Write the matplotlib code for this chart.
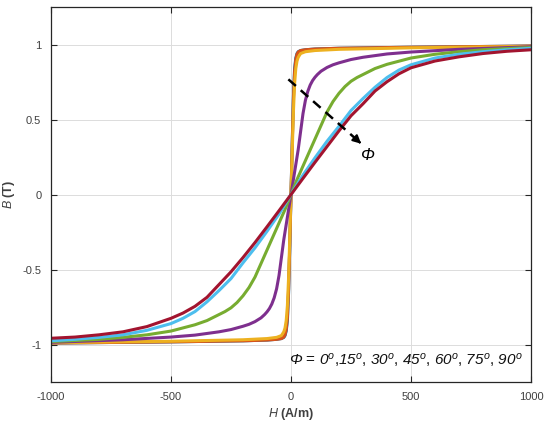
import numpy as np
import matplotlib
matplotlib.use('Agg')
import matplotlib.pyplot as plt

plt.rcParams['font.family'] = ['Liberation Sans', 'DejaVu Sans']
plt.rcParams['mathtext.fontset'] = 'custom'
plt.rcParams['mathtext.rm'] = 'Liberation Sans:italic'
plt.rcParams['mathtext.it'] = 'Liberation Sans:italic'
plt.rcParams['mathtext.bf'] = 'Liberation Sans:bold'

# B-H curves, one per angle phi
H_0 = [-1000, -500, -200, -100, -60, -40, -30, -25, -20, -15, -10, -5, 0,
       5, 10, 15, 20, 25, 30, 40, 60, 100, 200, 500, 1000]
B_0 = [-0.99, -0.982, -0.975, -0.97, -0.965, -0.96, -0.952, -0.94, -0.91, -0.84, -0.65, -0.34, 0,
       0.34, 0.65, 0.84, 0.91, 0.94, 0.952, 0.96, 0.965, 0.97, 0.975, 0.982, 0.99]

H_15 = [-1000, -500, -200, -100, -60, -40, -30, -25, -20, -15, -10, -5, 0,
        5, 10, 15, 20, 25, 30, 40, 60, 100, 200, 500, 1000]
B_15 = [-0.99, -0.982, -0.975, -0.97, -0.965, -0.96, -0.95, -0.935, -0.9, -0.82, -0.63, -0.33, 0,
        0.33, 0.63, 0.82, 0.9, 0.935, 0.95, 0.96, 0.965, 0.97, 0.975, 0.982, 0.99]

H_30 = [-1000, -500, -200, -100, -60, -40, -30, -25, -20, -15, -10, -5, 0,
        5, 10, 15, 20, 25, 30, 40, 60, 100, 200, 500, 1000]
B_30 = [-0.988, -0.978, -0.968, -0.96, -0.952, -0.94, -0.915, -0.89, -0.84, -0.74, -0.55, -0.28, 0,
        0.28, 0.55, 0.74, 0.84, 0.89, 0.915, 0.94, 0.952, 0.96, 0.968, 0.978, 0.988]

H_45 = [-1000, -700, -500, -400, -300, -250, -200, -175, -150, -125, -110, -100, -90, -80, -70, -60,
        -50, -40, -30, -20, -10, 0,
        10, 20, 30, 40, 50, 60, 70, 80, 90, 100, 110, 125, 150, 175, 200, 250, 300, 400, 500, 700, 1000]
B_45 = [-0.985, -0.968, -0.95, -0.937, -0.915, -0.9, -0.878, -0.865, -0.847, -0.822, -0.8, -0.782,
        -0.76, -0.73, -0.688, -0.628, -0.54, -0.42, -0.3, -0.2, -0.1, 0,
        0.1, 0.2, 0.3, 0.42, 0.54, 0.628, 0.688, 0.73, 0.76, 0.782, 0.8, 0.822, 0.847, 0.865, 0.878,
        0.9, 0.915, 0.937, 0.95, 0.968, 0.985]

H_60 = [-1000, -900, -800, -700, -600, -500, -400, -350, -300, -275, -250, -225, -200, -175, -150,
        -125, -100, -75, -50, -25, 0, 25, 50, 75, 100, 125, 150, 175, 200, 225, 250, 275, 300, 350,
        400, 500, 600, 700, 800, 900, 1000]
B_60 = [-0.98, -0.973, -0.965, -0.952, -0.935, -0.91, -0.868, -0.84, -0.8, -0.78, -0.755, -0.72,
        -0.675, -0.62, -0.55, -0.46, -0.37, -0.28, -0.19, -0.1, 0, 0.1, 0.19, 0.28, 0.37, 0.46, 0.55,
        0.62, 0.675, 0.72, 0.755, 0.78, 0.8, 0.84, 0.868, 0.91, 0.935, 0.952, 0.965, 0.973, 0.98]

H_75 = [-1000, -900, -800, -700, -600, -500, -450, -400, -350, -300, -250, -200, -150, -100, -50, 0,
        50, 100, 150, 200, 250, 300, 350, 400, 450, 500, 600, 700, 800, 900, 1000]
B_75 = [-0.975, -0.965, -0.952, -0.935, -0.905, -0.86, -0.825, -0.78, -0.715, -0.64, -0.56, -0.455,
        -0.355, -0.245, -0.13, 0, 0.13, 0.245, 0.355, 0.455, 0.56, 0.64, 0.715, 0.78, 0.83, 0.865,
        0.91, 0.935, 0.952, 0.965, 0.975]

H_90 = [-1000, -900, -800, -700, -600, -500, -450, -400, -350, -300, -250, -200, -150, -100, -50, 0,
        50, 100, 150, 200, 250, 300, 350, 400, 450, 500, 600, 700, 800, 900, 1000]
B_90 = [-0.958, -0.95, -0.935, -0.915, -0.88, -0.825, -0.79, -0.745, -0.685, -0.6, -0.515, -0.42,
        -0.32, -0.215, -0.108, 0, 0.108, 0.215, 0.32, 0.425, 0.525, 0.605, 0.69, 0.752, 0.805, 0.845,
        0.89, 0.918, 0.94, 0.955, 0.965]

curves = [(H_0, B_0), (H_15, B_15), (H_30, B_30), (H_45, B_45),
          (H_60, B_60), (H_75, B_75), (H_90, B_90)]
colors = ['#0072BD', '#D95319', '#EDB120', '#7E2F8E', '#77AC30', '#4DBEEE', '#A2142F']

fig = plt.figure(figsize=(5.5, 4.25), dpi=100)
ax = fig.add_axes([0.0927, 0.101, 0.8728, 0.8825])

for (h, b), c in zip(curves, colors):
    ax.plot(h, b, color=c, lw=2.2, solid_joinstyle='round', solid_capstyle='round')

# dashed arrow showing increasing phi
ax.plot([-11, 280], [0.768, 0.357], color='k', lw=1.8, ls=(0, (4, 2.6)))
ax.annotate('', xy=(301, 0.326), xytext=(275, 0.364),
            arrowprops=dict(arrowstyle='-|>', color='k', lw=1.5, mutation_scale=12))
ax.text(318, 0.265, r'$\Phi$', fontsize=12, ha='center', va='center')

ax.text(478, -1.1, r'$\Phi$ = $0^o$,$15^o$, $30^o$, $45^o$, $60^o$, $75^o$, $90^o$',
        fontsize=11, ha='center', va='center', color='#111111')

ax.set_xlim(-1000, 1000)
ax.set_ylim(-1.25, 1.25)
ax.set_xticks([-1000, -500, 0, 500, 1000])
ax.set_yticks([-1, -0.5, 0, 0.5, 1])
ax.set_xticklabels(['-1000', '-500', '0', '500', '1000'])
ax.set_yticklabels(['-1', '-0.5', '0', '0.5', '1'])
ax.grid(True, color='#dcdcdc', lw=0.7)
ax.set_axisbelow(True)
ax.tick_params(direction='in', top=True, right=True, length=4, width=0.8,
               colors='#262626', labelcolor='#404040', labelsize=8, pad=7)
for s in ax.spines.values():
    s.set_color('#262626')
    s.set_linewidth(0.9)

ax.set_xlabel(r'$H$ $\mathbf{(A/m)}$', fontsize=9, color='#404040', labelpad=3)
ax.set_ylabel(r'$B$ $\mathbf{(T)}$', fontsize=9, color='#404040', labelpad=4)

fig.savefig('out.png', dpi=100)
